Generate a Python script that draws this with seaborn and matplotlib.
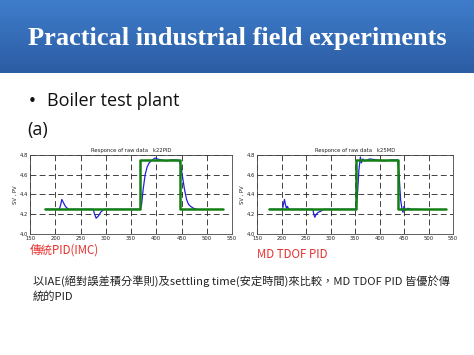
import numpy as np
import matplotlib
matplotlib.use("Agg")
import matplotlib.pyplot as plt
import seaborn as sns

# SP / PV data (time in s, value)
left_sp_t = [180, 368, 368, 447, 447, 533]
left_sp_v = [4.25, 4.25, 4.75, 4.75, 4.25, 4.25]
left_pv_t = [180, 208, 211, 213, 216, 220, 226, 240, 275, 278, 281, 285, 290, 296, 330,
             368, 371, 374, 378, 382, 386, 392, 398, 402, 410, 420, 430, 440, 446,
             449, 452, 456, 460, 464, 468, 474, 480]
left_pv_v = [4.25, 4.25, 4.30, 4.35, 4.32, 4.28, 4.25, 4.25, 4.25, 4.20, 4.16, 4.18, 4.22, 4.25, 4.25,
             4.25, 4.30, 4.45, 4.60, 4.68, 4.72, 4.75, 4.77, 4.76, 4.75, 4.74, 4.75, 4.75, 4.74,
             4.68, 4.58, 4.45, 4.35, 4.30, 4.28, 4.26, 4.25]

right_sp_t = [175, 352, 352, 437, 437, 535]
right_sp_v = [4.25, 4.25, 4.75, 4.75, 4.25, 4.25]
right_pv_t = [175, 202, 204, 206, 208, 210, 212, 215, 240, 264, 266, 268, 271, 275, 280, 286,
              340, 352, 355, 358, 361, 363, 366, 370, 380, 395, 410, 425, 437,
              440, 443, 446, 448, 450, 453, 458, 465, 480]
right_pv_v = [4.25, 4.25, 4.30, 4.35, 4.30, 4.26, 4.28, 4.25, 4.25, 4.25, 4.20, 4.17, 4.20, 4.22, 4.23, 4.25,
              4.25, 4.25, 4.40, 4.65, 4.78, 4.72, 4.76, 4.74, 4.76, 4.75, 4.74, 4.75, 4.75,
              4.60, 4.35, 4.25, 4.22, 4.28, 4.24, 4.26, 4.25, 4.25]

x_ticks = [150, 200, 250, 300, 350, 400, 450, 500, 550]
y_ticks = [4.0, 4.2, 4.4, 4.6, 4.8]

W, H = 474, 355


def fx(px):
    return px / W


def fy(py):
    return 1 - py / H


def draw_response(ax, sp_t, sp_v, pv_t, pv_v, title):
    sns.lineplot(x=pv_t, y=pv_v, ax=ax, color="#2020e0", linewidth=0.9,
                 estimator=None, sort=False)
    sns.lineplot(x=sp_t, y=sp_v, ax=ax, color="#138013", linewidth=1.8,
                 estimator=None, sort=False)
    ax.set_xlim(150, 550)
    ax.set_ylim(4.0, 4.8)
    ax.set_xticks(x_ticks)
    ax.set_yticks(y_ticks)
    ax.set_xticklabels([str(t) for t in x_ticks])
    ax.set_yticklabels(["%.1f" % t for t in y_ticks])
    ax.tick_params(direction="in", length=2, width=0.5, labelsize=3.8, pad=1.5, colors="#222222")
    ax.grid(True, color="#222222", linestyle=(0, (7, 4)), linewidth=0.6)
    for s in ax.spines.values():
        s.set_linewidth(0.6)
        s.set_color("#444444")
    ax.set_title(title, fontsize=3.8, pad=2, color="#222222")
    ax.set_ylabel("SV , PV", fontsize=3.8, labelpad=1, color="#222222")
    ax.set_xlabel("")


sns.set_style("white")
plt.rcParams['font.family'] = ['DejaVu Sans']

fig = plt.figure(figsize=(4.74, 3.55), dpi=100)

# blue header banner
ax_bg = fig.add_axes([0, fy(73), 1, 73 / H])
grad = np.linspace(0, 1, 100).reshape(-1, 1)
top = np.array([0x3f, 0x7d, 0xcb]) / 255
bot = np.array([0x2b, 0x5c, 0xa3]) / 255
img = top[None, None, :] * (1 - grad[:, :, None]) + bot[None, None, :] * grad[:, :, None]
ax_bg.imshow(img, aspect="auto", extent=[0, 1, 0, 1])
ax_bg.axis("off")
fig.text(0.5, fy(38), "Practical industrial field experiments", ha="center", va="center",
         color="white", fontsize=19.0, fontweight="bold", family="Liberation Serif")

fig.text(fx(28), fy(101), "•", ha="left", va="center", fontsize=11, family="DejaVu Sans",
         color="#111111")
fig.text(fx(47), fy(101), "Boiler test plant", ha="left", va="center", fontsize=13,
         family="Open Sans", color="#111111")
fig.text(fx(27), fy(130), "(a)", ha="left", va="center", fontsize=13,
         family="Open Sans", color="#111111")

ax1 = fig.add_axes([fx(30), fy(234), fx(232 - 30), (234 - 155) / H])
draw_response(ax1, left_sp_t, left_sp_v, left_pv_t, left_pv_v, "Responce of raw data   k22PID")

ax2 = fig.add_axes([fx(257), fy(234), fx(453 - 257), (234 - 155) / H])
draw_response(ax2, right_sp_t, right_sp_v, right_pv_t, right_pv_v, "Responce of raw data   k25MD")

cjk = ['Noto Sans CJK TC', 'DejaVu Sans']
fig.text(fx(30), fy(250), "傳統PID(IMC)", ha="left", va="center", fontsize=8.3,
         color="#e8322e", family=cjk)
fig.text(fx(257), fy(255), "MD TDOF PID", ha="left", va="center", fontsize=8.3,
         color="#e8322e", family=cjk)

fig.text(fx(33), fy(281), "以IAE(絕對誤差積分準則)及settling time(安定時間)來比較，MD TDOF PID 皆優於傳",
         ha="left", va="center", fontsize=8.1, color="#222222", family=cjk)
fig.text(fx(33), fy(296), "統的PID", ha="left", va="center", fontsize=8.1,
         color="#222222", family=cjk)

fig.savefig("out.png", dpi=100)
